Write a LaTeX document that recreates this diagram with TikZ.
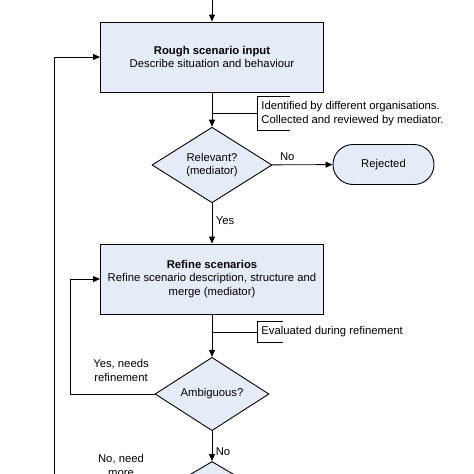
\documentclass[tikz,border=0pt]{standalone}
\usepackage{fontspec}
\setmainfont{Liberation Sans}
\usetikzlibrary{arrows.meta,shapes.geometric,calc}
\definecolor{boxfill}{RGB}{230,236,247}

\begin{document}
\begin{tikzpicture}[x=1pt,y=-1pt,line width=0.9pt,
  font=\fontsize{11.3}{13.6}\selectfont,
  procbox/.style={draw,fill=boxfill,minimum width=223pt,minimum height=70pt,align=center},
  decide/.style={draw,fill=boxfill,diamond,minimum width=120pt,minimum height=72pt,inner sep=0pt,align=center},
  endbox/.style={draw,fill=boxfill,rounded corners=20pt,minimum width=101pt,minimum height=40pt},
  note/.style={anchor=west,align=left,inner sep=4pt},
  flow/.style={-{Triangle[length=7pt,width=6pt]}}]
\useasboundingbox (0,0) rectangle (474,474);
\clip (0,0) rectangle (474,474);

\node[procbox] (rough) at (212,57) {\textbf{Rough scenario input}\\Describe situation and behaviour};
\node[decide] (relevant) at (212,165) {Relevant?\\(mediator)};
\node[endbox] (rejected) at (383.5,164.5) {Rejected};
\node[procbox] (refine) at (212,279) {\textbf{Refine scenarios}\\Refine scenario description, structure and\\merge (mediator)};
\node[decide,minimum width=114pt,minimum height=67pt] (ambig) at (212,394) {Ambiguous?};
\node[decide,minimum width=114pt,minimum height=67pt] (more) at (212,495) {};

% notes beside the main line
\coordinate (n1) at (212,113.5);
\node[note,minimum height=33pt] (ident) at (257,113.5) {Identified by different organisations.\\Collected and reviewed by mediator.};
\draw (n1) -- (ident.west);
\draw ($(ident.north west)+(33,0)$) -- (ident.north west) -- (ident.south west) -- ++(33,0);
\coordinate (n2) at (212,332);
\node[note,minimum height=20pt] (eval) at (257,332) {Evaluated during refinement};
\draw (n2) -- (eval.west);
\draw ($(eval.north west)+(26,0)$) -- (eval.north west) -- (eval.south west) -- ++(26,0);

% flow
\coordinate (start) at (212,-5);
\coordinate (loopA) at (54,0);
\coordinate (loopB) at (70,0);
\draw[flow] (start) -- (rough);
\draw[flow] (rough) -- (relevant);
\draw[flow] (relevant) -- node[pos=0.25,above]{No} (rejected);
\draw[flow] (relevant) -- node[pos=0.42,right]{Yes} (refine);
\draw[flow] (refine) -- (ambig);
\draw[flow] (ambig) -- node[pos=0.7,right]{No} (more);
\draw[flow] (ambig.west) -- (ambig.west -| loopB) |- (refine.west);
\draw[flow] (more.west) -- (more.west -| loopA) |- (rough.west);
\node[align=center] (yesref) at (121,370.5) {Yes, needs\\refinement};
\node[align=center] (nomore) at (121,465.5) {No, need\\more};
\end{tikzpicture}
\end{document}
